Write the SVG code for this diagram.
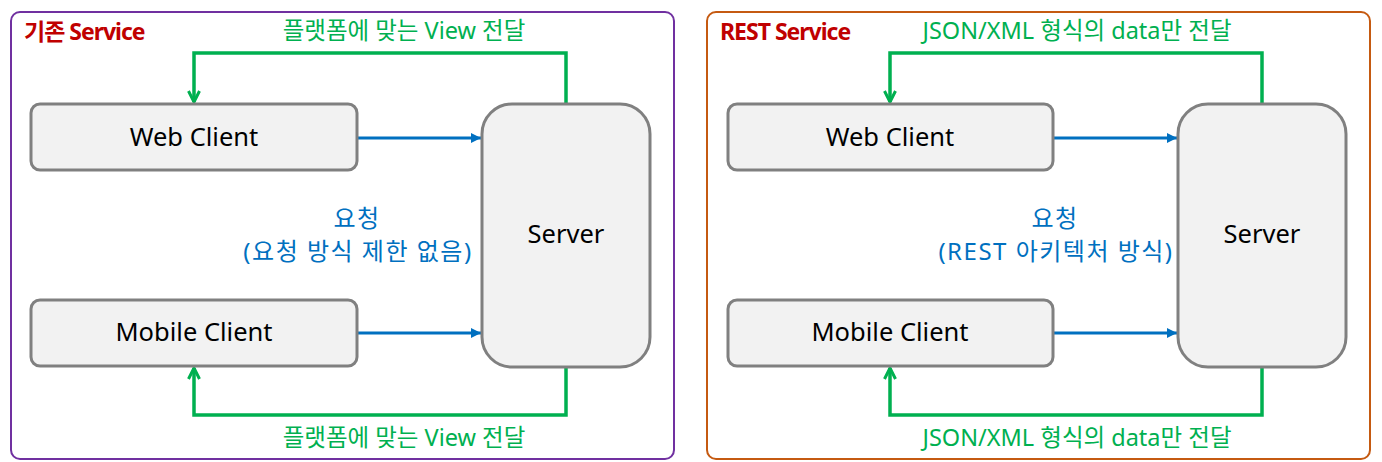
<svg xmlns="http://www.w3.org/2000/svg" width="1382" height="462" viewBox="0 0 1382 462">
<defs>
<style>
text{font-family:"Noto Sans","Noto Sans CJK KR",sans-serif}
.box{fill:#F2F2F2;stroke:#808080;stroke-width:3}
.lbl{font-size:25.5px;fill:#000;text-anchor:middle}
.title{font-size:23px;font-weight:bold;fill:#C00000;letter-spacing:-1px}
.green{font-size:23.5px;fill:#00B050;text-anchor:middle}
.blue{font-size:24px;fill:#0070C0;text-anchor:middle;letter-spacing:1.5px}
.gl{fill:none;stroke:#00B050;stroke-width:3.5}
.bl{fill:none;stroke:#0070C0;stroke-width:3}
</style>
<marker id="ga" viewBox="0 0 14 14" refX="12" refY="7" markerWidth="14" markerHeight="14" markerUnits="userSpaceOnUse" orient="auto">
<path d="M1,1.5 L12,7 L1,12.5" fill="none" stroke="#00B050" stroke-width="3"/>
</marker>
<marker id="ba" viewBox="0 0 10 10" refX="10" refY="5" markerWidth="10" markerHeight="10" markerUnits="userSpaceOnUse" orient="auto">
<path d="M0,0 L10,5 L0,10 Z" fill="#0070C0"/>
</marker>
</defs>

<g id="panel-left">
<rect x="11" y="12" width="663" height="447" rx="9" fill="#fff" stroke="#7030A0" stroke-width="2"/>
<text class="title" x="24" y="40">기존 Service</text>
</g>
<g id="panel-right">
<rect x="707" y="12" width="663" height="447" rx="9" fill="#fff" stroke="#C55A11" stroke-width="2"/>
<text class="title" x="720" y="40">REST Service</text>
</g>

<g id="connectors">
<path class="gl" d="M566,104 V53 H194 V102" marker-end="url(#ga)"/>
<path class="gl" d="M566,367 V415 H194 V368" marker-end="url(#ga)"/>
<path class="bl" d="M357,138 H481" marker-end="url(#ba)"/>
<path class="bl" d="M357,333 H481" marker-end="url(#ba)"/>
<path class="gl" d="M1262,104 V53 H890 V102" marker-end="url(#ga)"/>
<path class="gl" d="M1262,367 V415 H890 V368" marker-end="url(#ga)"/>
<path class="bl" d="M1053,138 H1177" marker-end="url(#ba)"/>
<path class="bl" d="M1053,333 H1177" marker-end="url(#ba)"/>
<text class="green" x="404" y="39">플랫폼에 맞는 View 전달</text>
<text class="green" x="404" y="446">플랫폼에 맞는 View 전달</text>
<text class="blue" x="357" y="227">요청</text>
<text class="blue" x="358" y="260">(요청 방식 제한 없음)</text>
<text class="green" x="1077" y="39">JSON/XML 형식의 data만 전달</text>
<text class="green" x="1077" y="446">JSON/XML 형식의 data만 전달</text>
<text class="blue" x="1055" y="227">요청</text>
<text class="blue" x="1056" y="260">(REST 아키텍처 방식)</text>
</g>

<g id="web-client-left">
<rect class="box" x="31" y="104" width="326" height="66" rx="9"/>
<text class="lbl" x="194" y="146">Web Client</text>
</g>
<g id="mobile-client-left">
<rect class="box" x="31" y="300" width="326" height="66" rx="9"/>
<text class="lbl" x="194" y="341">Mobile Client</text>
</g>
<g id="server-left">
<rect class="box" x="482" y="104" width="168" height="263" rx="30"/>
<text class="lbl" x="566" y="243">Server</text>
</g>

<g id="web-client-right">
<rect class="box" x="728" y="104" width="325" height="66" rx="9"/>
<text class="lbl" x="890" y="146">Web Client</text>
</g>
<g id="mobile-client-right">
<rect class="box" x="728" y="300" width="325" height="66" rx="9"/>
<text class="lbl" x="890" y="341">Mobile Client</text>
</g>
<g id="server-right">
<rect class="box" x="1178" y="104" width="168" height="263" rx="30"/>
<text class="lbl" x="1262" y="243">Server</text>
</g>
</svg>
